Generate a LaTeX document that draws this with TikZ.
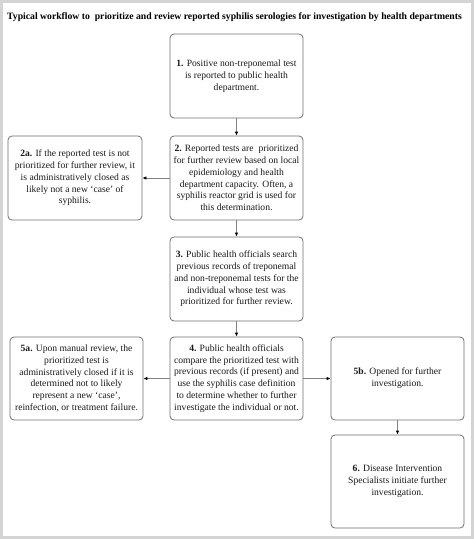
\documentclass[tikz,border=0pt]{standalone}
\usepackage{fontspec}
\setmainfont{Liberation Serif}
\usetikzlibrary{arrows.meta}
\definecolor{boxline}{HTML}{707070}
\definecolor{arrline}{HTML}{808080}
\definecolor{framegray}{HTML}{D4D4D4}
\tikzset{
  stepbox/.style={draw=boxline, line width=0.8pt, rounded corners=4pt, fill=white,
    align=center, inner sep=1pt, text=black!90,
    font=\fontsize{9.6}{11.8}\selectfont},
  flow/.style={draw=arrline, line width=0.8pt, -{Latex[length=4pt,width=3.5pt,black]}},
}
\begin{document}
\begin{tikzpicture}[x=1pt,y=-1pt]
\useasboundingbox (0,0) rectangle (474,539);
\fill[white] (0,0) rectangle (474,539);
\draw[framegray, line width=3pt] (1.5,1.5) rectangle (472.5,537.5);
\node[inner sep=0pt] (title) at (234.5,17) {\fontsize{9.7}{11}\selectfont\bfseries Typical workflow to \ prioritize and review reported syphilis serologies for investigation by health departments};
\node[stepbox, minimum width=133pt, minimum height=84pt] (s1) at (236.5,76)
  {\textbf{1.} Positive non-treponemal test\\ is reported to public health\\ department.};
\node[stepbox, minimum width=133pt, minimum height=84pt] (s2) at (236.5,178)
  {\textbf{2.} Reported tests are \ prioritized\\ for further review based on local\\ epidemiology and health\\ department capacity. Often, a\\ syphilis reactor grid is used for\\ this determination.};
\node[stepbox, minimum width=134pt, minimum height=84pt] (s2a) at (75,178)
  {\textbf{2a.} If the reported test is not\\ prioritized for further review, it\\ is administratively closed as\\ likely not a new ‘case’ of\\ syphilis.};
\node[stepbox, minimum width=133pt, minimum height=84pt] (s3) at (236.5,279)
  {\textbf{3.} Public health officials search\\ previous records of treponemal\\ and non-treponemal tests for the\\ individual whose test was\\ prioritized for further review.};
\node[stepbox, minimum width=133pt, minimum height=83pt] (s4) at (236.5,378.5)
  {\textbf{4.} Public health officials\\ compare the prioritized test with\\ previous records (if present) and\\ use the syphilis case definition\\ to determine whether to further\\ investigate the individual or not.};
\node[stepbox, minimum width=133pt, minimum height=83pt] (s5a) at (76.5,378.5)
  {\textbf{5a.} Upon manual review, the\\ prioritized test is\\ administratively closed if it is\\ determined not to likely\\ represent a new ‘case’,\\ reinfection, or treatment failure.};
\node[stepbox, minimum width=133pt, minimum height=83pt] (s5b) at (397.5,378.5)
  {\textbf{5b.} Opened for further\\ investigation.};
\node[stepbox, minimum width=133pt, minimum height=93pt] (s6) at (397.5,481.5)
  {\textbf{6.} Disease Intervention\\ Specialists initiate further\\ investigation.};
\draw[flow] (s1) -- (s2);
\draw[flow] (s2) -- (s2a);
\draw[flow] (s2) -- (s3);
\draw[flow] (s3) -- (s4);
\draw[flow] (s4) -- (s5a);
\draw[flow] (s4) -- (s5b);
\draw[flow] (s5b) -- (s6);
\end{tikzpicture}
\end{document}
